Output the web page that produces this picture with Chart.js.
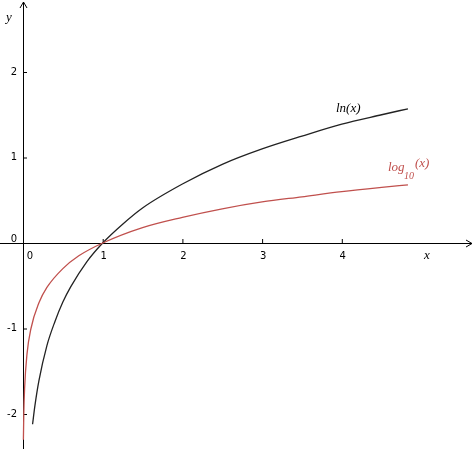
<!DOCTYPE html>
<html><head><meta charset="utf-8">
<script src="https://cdn.jsdelivr.net/npm/chart.js@4"></script>
<style>html,body{margin:0;padding:0;background:#fff}#w{width:474px;height:449px}</style>
</head><body><div id="w"><canvas id="c"></canvas></div>
<script>
const lnX = [0.12,0.15,0.2,0.3,0.4,0.5,0.6,0.8,1,1.25,1.5,2,2.5,3,3.5,4,4.5,4.83];
const lnY = [-2.12,-1.9,-1.61,-1.2,-0.92,-0.69,-0.51,-0.22,0,0.22,0.41,0.69,0.92,1.1,1.25,1.39,1.5,1.57];
const logX = [0.005,0.01,0.02,0.05,0.1,0.2,0.3,0.5,0.7,1,1.5,2,2.5,3,3.5,4,4.5,4.83];
const logY = [-2.3,-2.0,-1.7,-1.3,-1.0,-0.7,-0.52,-0.3,-0.15,0,0.18,0.3,0.4,0.48,0.54,0.6,0.65,0.68];
const xTicks = [0,1,2,3,4];
const yTicks = [-2,-1,0,1,2];
const pts = (xs,ys)=>xs.map((x,i)=>({x,y:ys[i]}));
const axesPlugin = {
  id:'axes',
  beforeDatasetsDraw(ch){
    const c=ch.ctx, xs=ch.scales.x, ys=ch.scales.y;
    const x0=xs.getPixelForValue(0), y0=ys.getPixelForValue(0);
    c.save(); c.strokeStyle='#000'; c.fillStyle='#000'; c.lineWidth=1;
    c.beginPath(); c.moveTo(0,y0+0.5); c.lineTo(472,y0+0.5);
    c.moveTo(x0+0.5,449); c.lineTo(x0+0.5,2); c.stroke();
    c.beginPath(); c.moveTo(466,y0-3); c.lineTo(472,y0+0.5); c.lineTo(466,y0+4); c.stroke();
    c.beginPath(); c.moveTo(x0-3,8); c.lineTo(x0+0.5,2); c.lineTo(x0+4,8); c.stroke();
    c.font='10px "DejaVu Sans"'; c.textBaseline='middle';
    xTicks.forEach(t=>{const p=xs.getPixelForValue(t);
      if(t!==0){c.beginPath();c.moveTo(p+0.5,y0-4);c.lineTo(p+0.5,y0);c.stroke();}
      c.textAlign='center'; c.fillText(String(t), t===0?p+7:p+1, y0+13);});
    yTicks.forEach(t=>{const p=ys.getPixelForValue(t);
      if(t!==0){c.beginPath();c.moveTo(x0,p+0.5);c.lineTo(x0+4,p+0.5);c.stroke();}
      c.textAlign='right'; c.fillText(String(t), x0-6, t===0?p-4:p);});
    c.font='italic 13px "Liberation Serif"'; c.textAlign='left';
    c.fillText('x',424,y0+13); c.fillText('y',6,18);
    c.fillText('ln(x)',336,109);
    c.fillStyle='#c0504d'; c.fillText('log',388,168);
    c.font='italic 10px "Liberation Serif"'; c.fillText('10',404,176);
    c.font='italic 13px "Liberation Serif"'; c.fillText('(x)',415,164);
    c.restore();
  }
};
new Chart(document.getElementById('c'),{
  type:'scatter',
  data:{datasets:[
    {data:pts(logX,logY),showLine:true,borderColor:'#c0504d',borderWidth:1.3,pointRadius:0,tension:0.4,cubicInterpolationMode:'monotone'},
    {data:pts(lnX,lnY),showLine:true,borderColor:'#222',borderWidth:1.3,pointRadius:0,cubicInterpolationMode:'monotone'}
  ]},
  options:{responsive:true,maintainAspectRatio:false,animation:false,
    layout:{padding:0},
    plugins:{legend:{display:false},tooltip:{enabled:false}},
    scales:{x:{type:'linear',display:false,min:-23/79.7,max:(474-23)/79.7},
            y:{type:'linear',display:false,min:-(449-243)/85.5,max:243/85.5}}},
  plugins:[axesPlugin]
});
</script></body></html>
